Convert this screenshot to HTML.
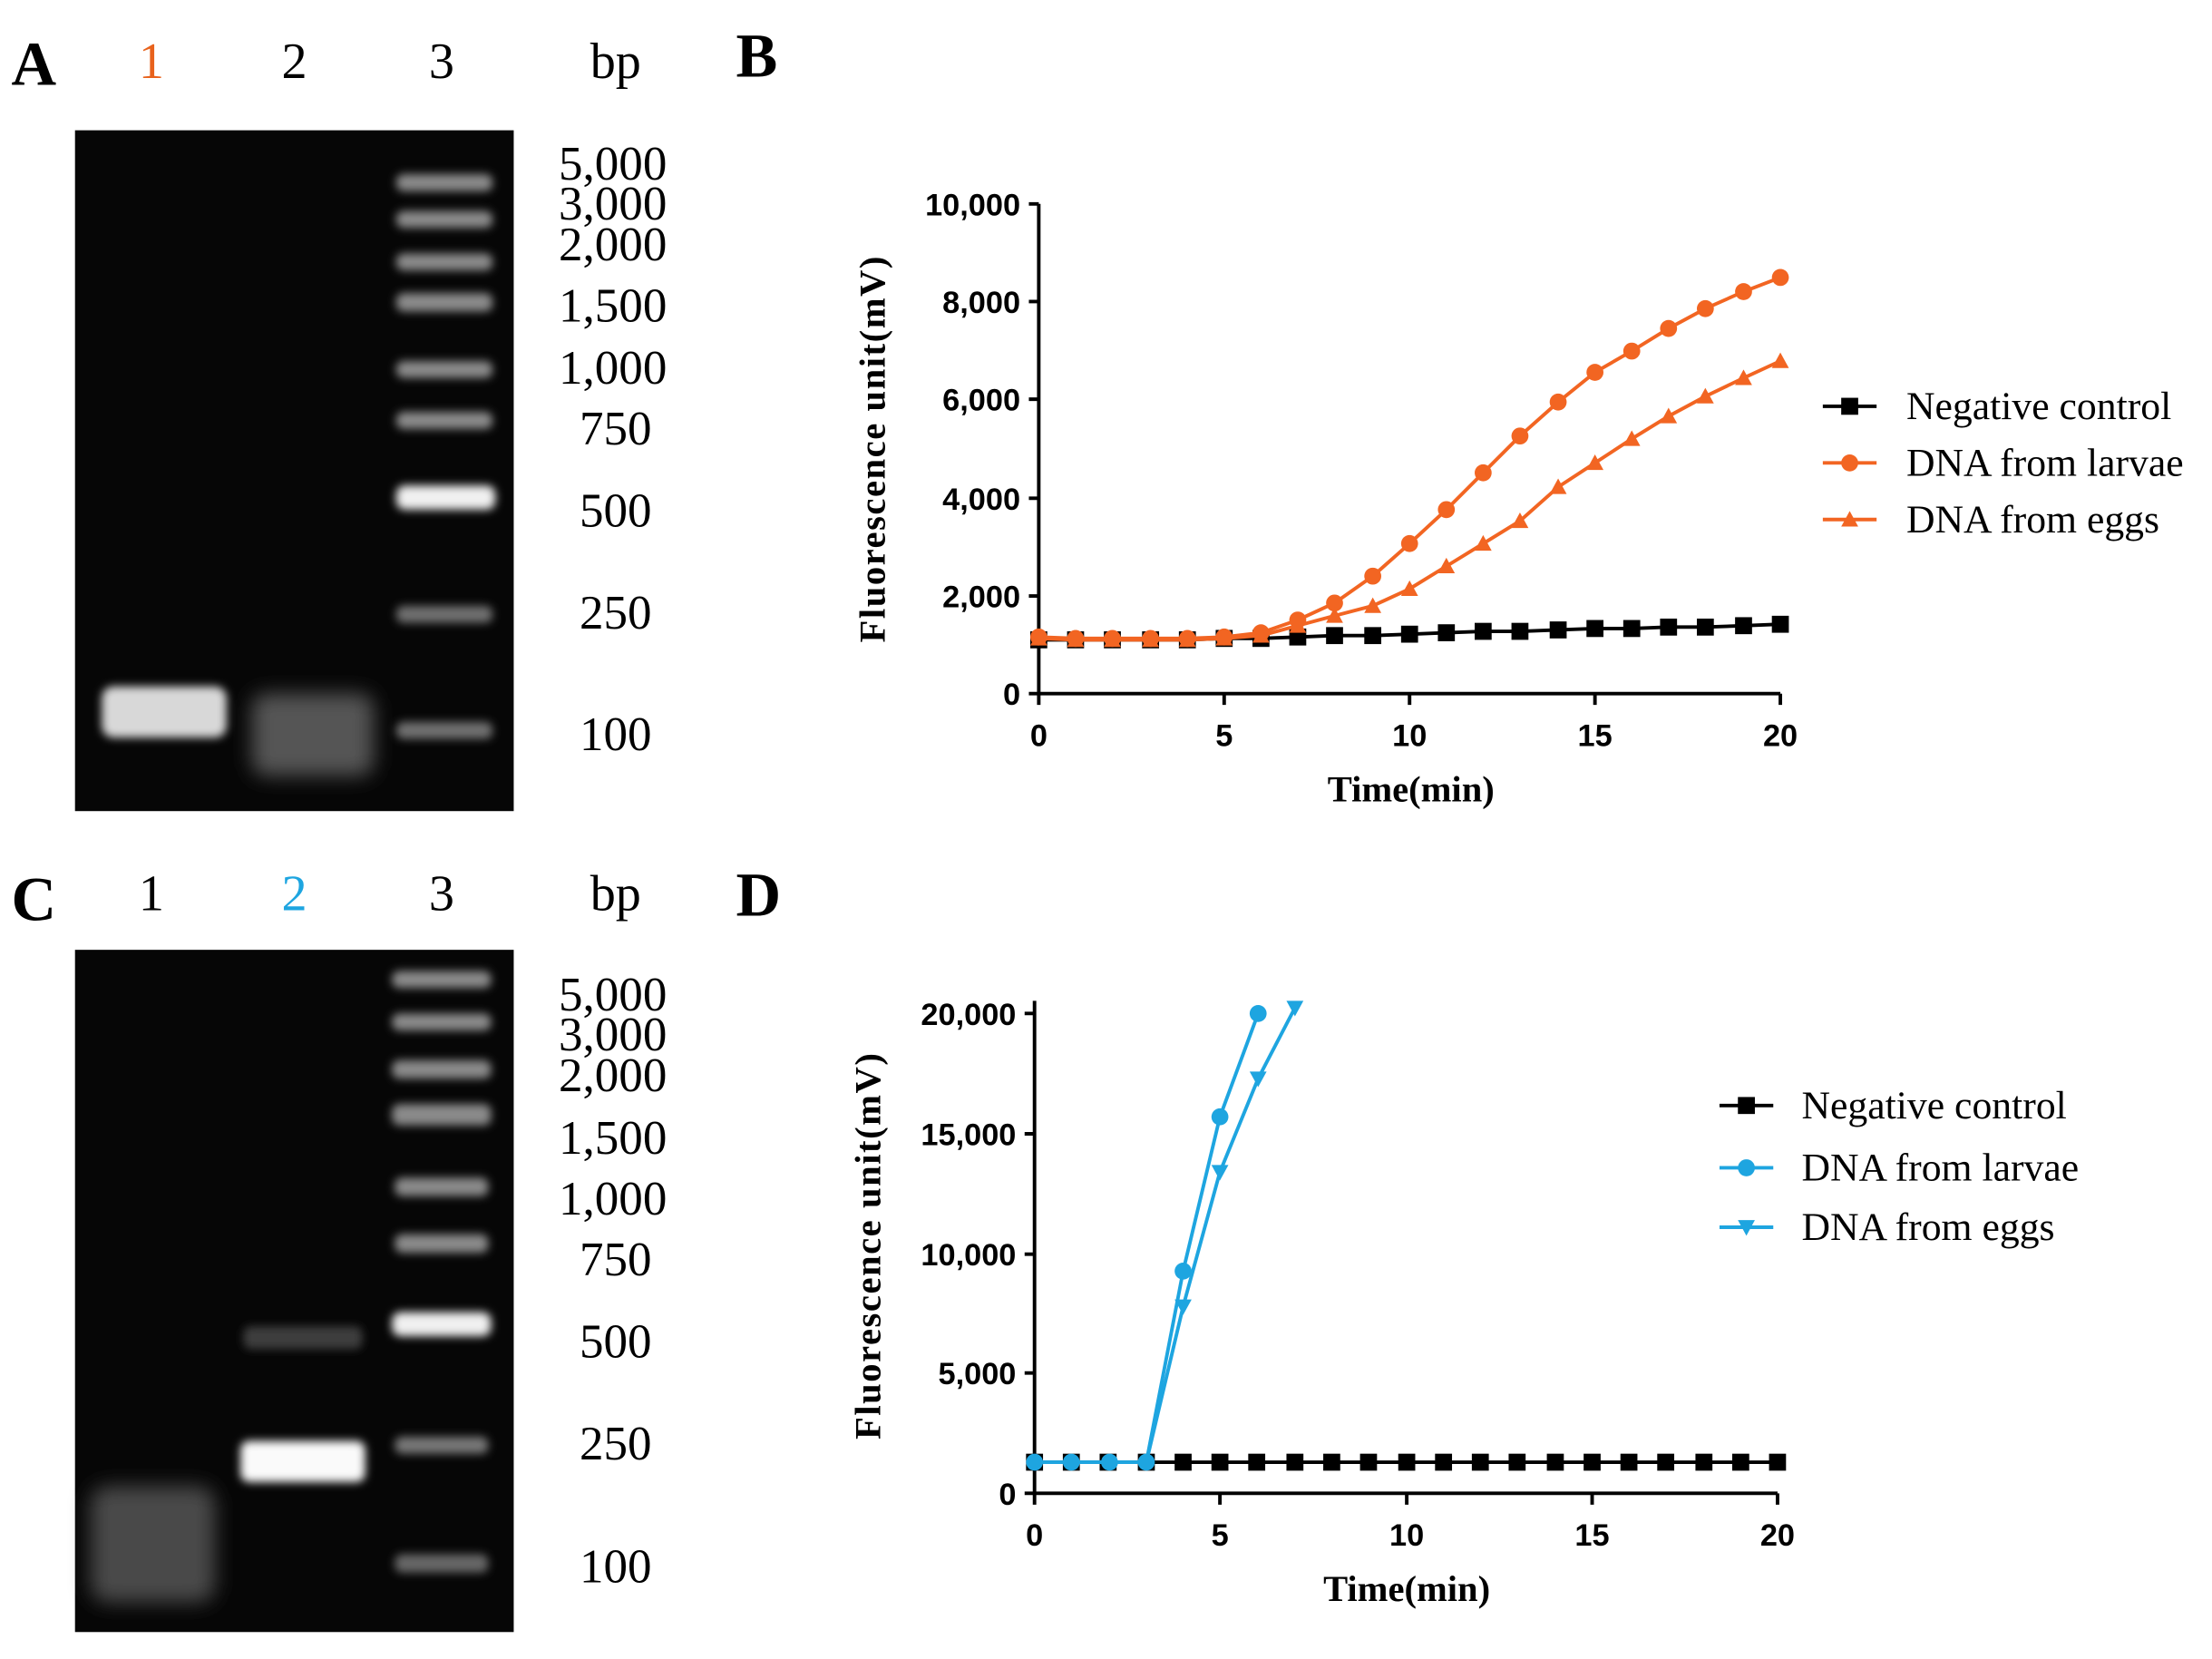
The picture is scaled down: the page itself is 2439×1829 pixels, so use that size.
<!DOCTYPE html>
<html><head><meta charset="utf-8"><style>
html,body{margin:0;padding:0;background:#fff;width:2439px;height:1829px;overflow:hidden}
svg{display:block}
.s{font-family:"Liberation Serif",serif}
.b{font-family:"Liberation Sans",sans-serif;font-weight:bold;font-size:22px}
</style></head><body>
<svg width="2439" height="1829" viewBox="0 0 1563 1172" xmlns="http://www.w3.org/2000/svg">
<defs>
<filter id="bl" x="-20%" y="-100%" width="140%" height="300%"><feGaussianBlur stdDeviation="3"/></filter>
<filter id="bl2" x="-20%" y="-100%" width="140%" height="300%"><feGaussianBlur stdDeviation="7"/></filter>
</defs>
<rect width="1563" height="1172" fill="#fff"/>
<!-- Panel A -->
<g class="s">
<text x="8" y="60" font-size="44" font-weight="bold">A</text>
<text x="107" y="55" font-size="36" fill="#e8621c" text-anchor="middle">1</text>
<text x="208" y="55" font-size="36" text-anchor="middle">2</text>
<text x="312" y="55" font-size="36" text-anchor="middle">3</text>
<text x="435" y="55" font-size="36" text-anchor="middle">bp</text>
</g>
<rect x="53" y="92" width="310" height="481" fill="#060606"/>
<g filter="url(#bl)">
<g fill="#8a8a8a">
<rect x="280" y="123" width="68" height="12" rx="5"/>
<rect x="280" y="149" width="68" height="12" rx="5"/>
<rect x="280" y="179" width="68" height="12" rx="5"/>
<rect x="280" y="207" width="68" height="13" rx="5"/>
<rect x="280" y="255" width="68" height="12" rx="5"/>
<rect x="280" y="291" width="68" height="12" rx="5"/>
<rect x="280" y="428" width="68" height="12" rx="5" fill="#707070"/>
<rect x="280" y="510" width="68" height="12" rx="5" fill="#707070"/>
</g>
<rect x="280" y="343" width="70" height="17" rx="6" fill="#f0f0f0"/>
<rect x="72" y="485" width="88" height="36" rx="8" fill="#d8d8d8"/>
</g>
<rect x="178" y="490" width="86" height="58" rx="10" fill="#555" filter="url(#bl2)"/>
<g class="s" font-size="34" text-anchor="middle">
<text x="433" y="127">5,000</text>
<text x="433" y="155">3,000</text>
<text x="433" y="184">2,000</text>
<text x="433" y="227">1,500</text>
<text x="433" y="271">1,000</text>
<text x="435" y="314">750</text>
<text x="435" y="372">500</text>
<text x="435" y="444">250</text>
<text x="435" y="530">100</text>
</g>
<!-- Panel C -->
<g class="s">
<text x="8" y="650" font-size="44" font-weight="bold">C</text>
<text x="107" y="643" font-size="36" text-anchor="middle">1</text>
<text x="208" y="643" font-size="36" fill="#1ea5e0" text-anchor="middle">2</text>
<text x="312" y="643" font-size="36" text-anchor="middle">3</text>
<text x="435" y="643" font-size="36" text-anchor="middle">bp</text>
</g>
<rect x="53" y="671" width="310" height="482" fill="#060606"/>
<g filter="url(#bl)">
<g fill="#8a8a8a">
<rect x="277" y="686" width="70" height="12" rx="5"/>
<rect x="277" y="716" width="70" height="12" rx="5"/>
<rect x="277" y="749" width="70" height="13" rx="5"/>
<rect x="277" y="780" width="70" height="15" rx="5"/>
<rect x="279" y="832" width="66" height="13" rx="5"/>
<rect x="279" y="872" width="66" height="13" rx="5"/>
<rect x="279" y="1015" width="66" height="12" rx="5" fill="#777"/>
<rect x="279" y="1098" width="66" height="13" rx="5" fill="#666"/>
</g>
<rect x="277" y="927" width="70" height="17" rx="6" fill="#f0f0f0"/>
<rect x="170" y="1018" width="88" height="29" rx="6" fill="#fafafa"/>
<rect x="172" y="937" width="84" height="16" rx="5" fill="#3e3e3e"/>
</g>
<rect x="64" y="1050" width="88" height="82" rx="12" fill="#4a4a4a" filter="url(#bl2)"/>
<g class="s" font-size="34" text-anchor="middle">
<text x="433" y="714">5,000</text>
<text x="433" y="742">3,000</text>
<text x="433" y="771">2,000</text>
<text x="433" y="815">1,500</text>
<text x="433" y="858">1,000</text>
<text x="435" y="901">750</text>
<text x="435" y="959">500</text>
<text x="435" y="1031">250</text>
<text x="435" y="1118">100</text>
</g>
<!-- Panel B -->
<text class="s" x="520" y="54" font-size="44" font-weight="bold">B</text>
<g stroke="#000" stroke-width="2.5" fill="none">
<path d="M734 144V490H1258"/>
<path d="M727 144H734M727 213H734M727 282H734M727 352H734M727 421H734M727 490H734"/>
<path d="M734 490V498M865 490V498M996 490V498M1127 490V498M1258 490V498"/>
</g>
<g class="b" text-anchor="end">
<text x="721" y="152">10,000</text><text x="721" y="221">8,000</text><text x="721" y="290">6,000</text>
<text x="721" y="360">4,000</text><text x="721" y="429">2,000</text><text x="721" y="498">0</text>
</g>
<g class="b" text-anchor="middle">
<text x="734" y="527">0</text><text x="865" y="527">5</text><text x="996" y="527">10</text><text x="1127" y="527">15</text><text x="1258" y="527">20</text>
</g>
<text class="s" x="997" y="566" font-size="26" font-weight="bold" text-anchor="middle">Time(min)</text>
<text class="s" transform="translate(625,317) rotate(-90)" font-size="26" font-weight="bold" text-anchor="middle" letter-spacing="1">Fluorescence unit(mV)</text>
<polyline fill="none" stroke="#000" stroke-width="2.5" points="734,452 760,452 786,452 813,452 839,452 865,451 891,451 917,450 943,449 970,449 996,448 1022,447 1048,446 1074,446 1101,445 1127,444 1153,444 1179,443 1205,443 1232,442 1258,441"/>
<g fill="#000">
<rect x="728" y="446" width="12" height="12"/><rect x="754" y="446" width="12" height="12"/><rect x="780" y="446" width="12" height="12"/><rect x="807" y="446" width="12" height="12"/><rect x="833" y="446" width="12" height="12"/><rect x="859" y="445" width="12" height="12"/><rect x="885" y="445" width="12" height="12"/><rect x="911" y="444" width="12" height="12"/><rect x="937" y="443" width="12" height="12"/><rect x="964" y="443" width="12" height="12"/><rect x="990" y="442" width="12" height="12"/><rect x="1016" y="441" width="12" height="12"/><rect x="1042" y="440" width="12" height="12"/><rect x="1068" y="440" width="12" height="12"/><rect x="1095" y="439" width="12" height="12"/><rect x="1121" y="438" width="12" height="12"/><rect x="1147" y="438" width="12" height="12"/><rect x="1173" y="437" width="12" height="12"/><rect x="1199" y="437" width="12" height="12"/><rect x="1226" y="436" width="12" height="12"/><rect x="1252" y="435" width="12" height="12"/>
</g>
<polyline fill="none" stroke="#f26522" stroke-width="2.5" points="734,450 760,451 786,451 813,451 839,451 865,450 891,447 917,438 943,426 970,407 996,384 1022,360 1048,334 1074,308 1101,284 1127,263 1153,248 1179,232 1205,218 1232,206 1258,196"/>
<g fill="#f26522">
<circle cx="734" cy="450" r="6"/><circle cx="760" cy="451" r="6"/><circle cx="786" cy="451" r="6"/><circle cx="813" cy="451" r="6"/><circle cx="839" cy="451" r="6"/><circle cx="865" cy="450" r="6"/><circle cx="891" cy="447" r="6"/><circle cx="917" cy="438" r="6"/><circle cx="943" cy="426" r="6"/><circle cx="970" cy="407" r="6"/><circle cx="996" cy="384" r="6"/><circle cx="1022" cy="360" r="6"/><circle cx="1048" cy="334" r="6"/><circle cx="1074" cy="308" r="6"/><circle cx="1101" cy="284" r="6"/><circle cx="1127" cy="263" r="6"/><circle cx="1153" cy="248" r="6"/><circle cx="1179" cy="232" r="6"/><circle cx="1205" cy="218" r="6"/><circle cx="1232" cy="206" r="6"/><circle cx="1258" cy="196" r="6"/>
</g>
<polyline fill="none" stroke="#f26522" stroke-width="2.5" points="734,451 760,452 786,452 813,452 839,452 865,451 891,449 917,442 943,435 970,428 996,416 1022,400 1048,384 1074,368 1101,344 1127,327 1153,310 1179,294 1205,280 1232,267 1258,255"/>
<g fill="#f26522">
<path d="M734,445l6,11h-12z"/><path d="M760,446l6,11h-12z"/><path d="M786,446l6,11h-12z"/><path d="M813,446l6,11h-12z"/><path d="M839,446l6,11h-12z"/><path d="M865,445l6,11h-12z"/><path d="M891,443l6,11h-12z"/><path d="M917,436l6,11h-12z"/><path d="M943,429l6,11h-12z"/><path d="M970,422l6,11h-12z"/><path d="M996,410l6,11h-12z"/><path d="M1022,394l6,11h-12z"/><path d="M1048,378l6,11h-12z"/><path d="M1074,362l6,11h-12z"/><path d="M1101,338l6,11h-12z"/><path d="M1127,321l6,11h-12z"/><path d="M1153,304l6,11h-12z"/><path d="M1179,288l6,11h-12z"/><path d="M1205,274l6,11h-12z"/><path d="M1232,261l6,11h-12z"/><path d="M1258,249l6,11h-12z"/>
</g>
<g class="s" font-size="28">
<line x1="1288" y1="287" x2="1326" y2="287" stroke="#000" stroke-width="2.5"/><rect x="1301" y="281" width="12" height="12"/>
<text x="1347" y="296">Negative control</text>
<line x1="1288" y1="327" x2="1326" y2="327" stroke="#f26522" stroke-width="2.5"/><circle cx="1307" cy="327" r="6" fill="#f26522"/>
<text x="1347" y="336">DNA from larvae</text>
<line x1="1288" y1="367" x2="1326" y2="367" stroke="#f26522" stroke-width="2.5"/><path d="M1307,361l6,11h-12z" fill="#f26522"/>
<text x="1347" y="376">DNA from eggs</text>
</g>
<!-- Panel D -->
<text class="s" x="520" y="647" font-size="44" font-weight="bold">D</text>
<g stroke="#000" stroke-width="2.5" fill="none">
<path d="M731 707V1055H1256"/>
<path d="M724 716H731M724 801H731M724 886H731M724 970H731M724 1055H731"/>
<path d="M731 1055V1063M862 1055V1063M994 1055V1063M1125 1055V1063M1256 1055V1063"/>
</g>
<g class="b" text-anchor="end">
<text x="718" y="724">20,000</text><text x="718" y="809">15,000</text><text x="718" y="894">10,000</text>
<text x="718" y="978">5,000</text><text x="718" y="1063">0</text>
</g>
<g class="b" text-anchor="middle">
<text x="731" y="1092">0</text><text x="862" y="1092">5</text><text x="994" y="1092">10</text><text x="1125" y="1092">15</text><text x="1256" y="1092">20</text>
</g>
<text class="s" x="994" y="1131" font-size="26" font-weight="bold" text-anchor="middle">Time(min)</text>
<text class="s" transform="translate(622,880) rotate(-90)" font-size="26" font-weight="bold" text-anchor="middle" letter-spacing="1">Fluorescence unit(mV)</text>
<line x1="731" y1="1033" x2="1256" y2="1033" stroke="#000" stroke-width="2.5"/>
<g fill="#000">
<rect x="725" y="1027" width="12" height="12"/><rect x="751" y="1027" width="12" height="12"/><rect x="777" y="1027" width="12" height="12"/><rect x="804" y="1027" width="12" height="12"/><rect x="830" y="1027" width="12" height="12"/><rect x="856" y="1027" width="12" height="12"/><rect x="882" y="1027" width="12" height="12"/><rect x="909" y="1027" width="12" height="12"/><rect x="935" y="1027" width="12" height="12"/><rect x="961" y="1027" width="12" height="12"/><rect x="988" y="1027" width="12" height="12"/><rect x="1014" y="1027" width="12" height="12"/><rect x="1040" y="1027" width="12" height="12"/><rect x="1066" y="1027" width="12" height="12"/><rect x="1093" y="1027" width="12" height="12"/><rect x="1119" y="1027" width="12" height="12"/><rect x="1145" y="1027" width="12" height="12"/><rect x="1171" y="1027" width="12" height="12"/><rect x="1198" y="1027" width="12" height="12"/><rect x="1224" y="1027" width="12" height="12"/><rect x="1250" y="1027" width="12" height="12"/>
</g>
<polyline fill="none" stroke="#1ea5e0" stroke-width="2.5" points="731,1033 757,1033 784,1033 810,1033 836,898 862,789 889,716"/>
<g fill="#1ea5e0">
<circle cx="731" cy="1033" r="6"/><circle cx="757" cy="1033" r="6"/><circle cx="784" cy="1033" r="6"/><circle cx="810" cy="1033" r="6"/><circle cx="836" cy="898" r="6"/><circle cx="862" cy="789" r="6"/><circle cx="889" cy="716" r="6"/>
</g>
<polyline fill="none" stroke="#1ea5e0" stroke-width="2.5" points="731,1033 757,1033 784,1033 810,1033 836,923 862,828 889,762 915,712"/>
<g fill="#1ea5e0">
<path d="M830,918h12l-6,11z"/><path d="M856,823h12l-6,11z"/><path d="M883,757h12l-6,11z"/><path d="M909,707h12l-6,11z"/>
</g>
<g class="s" font-size="28">
<line x1="1215" y1="781" x2="1253" y2="781" stroke="#000" stroke-width="2.5"/><rect x="1228" y="775" width="12" height="12"/>
<text x="1273" y="790">Negative control</text>
<line x1="1215" y1="825" x2="1253" y2="825" stroke="#1ea5e0" stroke-width="2.5"/><circle cx="1234" cy="825" r="6" fill="#1ea5e0"/>
<text x="1273" y="834">DNA from larvae</text>
<line x1="1215" y1="867" x2="1253" y2="867" stroke="#1ea5e0" stroke-width="2.5"/><path d="M1228,862h12l-6,11z" fill="#1ea5e0"/>
<text x="1273" y="876">DNA from eggs</text>
</g>
</svg>
</body></html>
